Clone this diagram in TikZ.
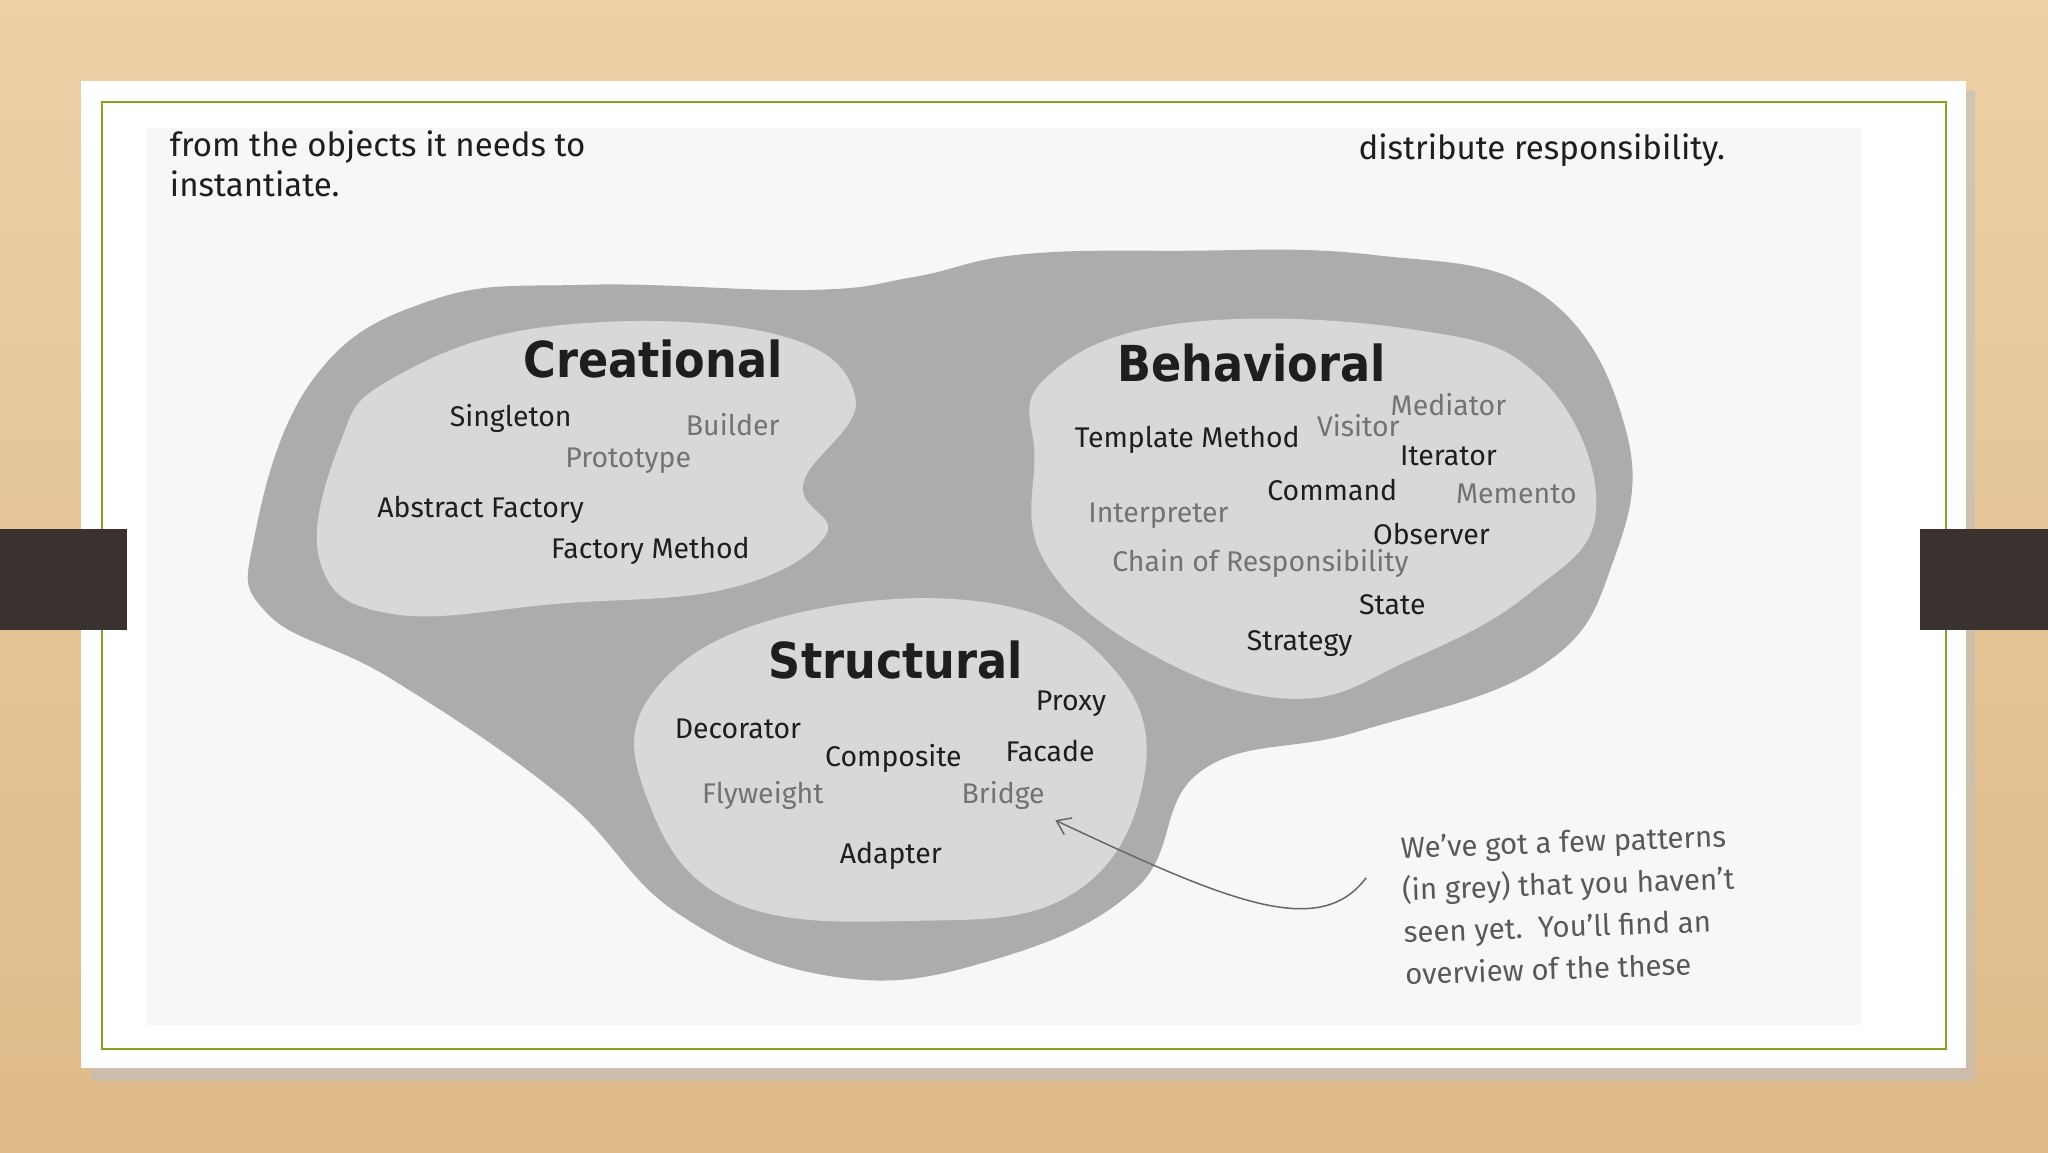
\documentclass[tikz,border=0pt]{standalone}
\usepackage{fontspec}
\setmainfont{Fira Sans}
\newfontfamily\titlefont{DejaVu Sans Condensed}
\usetikzlibrary{arrows.meta}
\definecolor{wood}{RGB}{222,186,136}
\definecolor{woodlight}{RGB}{236,208,166}
\definecolor{frame}{RGB}{140,160,40}
\definecolor{bar}{RGB}{58,50,46}
\definecolor{blobdark}{RGB}{172,172,172}
\definecolor{bloblight}{RGB}{216,216,216}
\definecolor{txt}{RGB}{30,30,30}
\definecolor{gtxt}{RGB}{115,115,115}
\tikzset{
 pat/.style={font=\fontsize{31}{35}\selectfont, text=txt, inner sep=0pt},
 gpat/.style={font=\fontsize{31}{35}\selectfont, text=gtxt, inner sep=0pt},
 ttl/.style={font=\titlefont\bfseries\fontsize{54}{60}\selectfont, text=txt, inner sep=0pt},
 top/.style={font=\fontsize{36}{44}\selectfont, text=txt, align=left, inner sep=0pt, anchor=north west},
 note/.style={font=\fontsize{32}{46}\selectfont, text=black!65, align=left, inner sep=0pt, anchor=north west, rotate=2}
}
\begin{document}
\begin{tikzpicture}[x=0.05cm,y=-0.05cm]
\useasboundingbox (0,0) rectangle (1568,882);
\shade[top color=woodlight, bottom color=wood] (0,0) rectangle (1568,882);
\fill[black!25, opacity=0.6] (70,70) rectangle (1512,828);
\fill[white] (62,62) rectangle (1505,818);
\fill[black!3] (112,98) rectangle (1425,785);
\draw[frame, line width=2pt] (78,78) rectangle (1490,803);
\fill[bar] (0,405) rectangle (97,482);
\fill[bar] (1470,405) rectangle (1568,482);
% blobs
\fill[blobdark] plot[smooth cycle, tension=0.7] coordinates {(195,410) (240,290) (330,230) (450,218) (620,222) (700,212) (780,195) (900,192) (1050,195) (1180,225) (1245,330) (1235,430) (1180,510) (1040,560) (920,590) (870,680) (760,735) (640,748) (520,700) (430,610) (300,520) (205,470)};
\fill[bloblight] plot[smooth cycle, tension=0.7] coordinates {(300,290) (420,250) (590,255) (655,305) (615,370) (632,410) (560,450) (430,462) (300,470) (245,430) (260,340)};
\fill[bloblight] plot[smooth cycle, tension=0.7] coordinates {(800,290) (900,248) (1080,252) (1180,290) (1222,390) (1170,455) (1080,505) (990,535) (880,500) (800,430) (792,350)};
\fill[bloblight] plot[smooth cycle, tension=0.7] coordinates {(500,530) (600,472) (760,462) (855,515) (875,600) (820,685) (700,705) (560,690) (495,610)};
% top text
\node[top] (t1) at (130,100) {from the objects it needs to\\instantiate.};
\node[top] (t2) at (1040,102) {distribute responsibility.};
% titles
\node[ttl] (cre) at (500,275) {Creational};
\node[ttl] (beh) at (958,278) {Behavioral};
\node[ttl] (str) at (686,505) {Structural};
% creational
\node[pat] (sing) at (391,320) {Singleton};
\node[gpat] (bld) at (561,325) {Builder};
\node[gpat] (prot) at (481,353) {Prototype};
\node[pat] (af) at (368,390) {Abstract Factory};
\node[pat] (fm) at (498,422) {Factory Method};
% behavioral
\node[pat] (tm) at (909,337) {Template Method};
\node[gpat] (vis) at (1040,326) {Visitor};
\node[gpat] (med) at (1109,310) {Mediator};
\node[pat] (it) at (1109,349) {Iterator};
\node[pat] (cmd) at (1020,375) {Command};
\node[gpat] (mem) at (1161,378) {Memento};
\node[gpat] (int) at (887,395) {Interpreter};
\node[pat] (obs) at (1096,409) {Observer};
\node[gpat] (cor) at (965,431) {Chain of Responsibility};
\node[pat] (st) at (1066,463) {State};
\node[pat] (stg) at (995,493) {Strategy};
% structural
\node[pat] (prx) at (820,539) {Proxy};
\node[pat] (dec) at (565,558) {Decorator};
\node[pat] (comp) at (684,581) {Composite};
\node[pat] (fac) at (804,575) {Facade};
\node[gpat] (fly) at (584,609) {Flyweight};
\node[gpat] (brg) at (768,609) {Bridge};
\node[pat] (adp) at (682,655) {Adapter};
% note
\node[note] (nt) at (1072,640) {We've got a few patterns\\(in grey) that you haven't\\seen yet.\ \ You'll find an\\overview of the these};
\coordinate (ns) at (1046,672);
\coordinate (ae) at (808,628);
\draw[black!60, line width=1.6pt, -{Straight Barb[length=14pt,width=20pt]}] (ns) .. controls (1010,720) and (940,690) .. (ae);
\end{tikzpicture}
\end{document}
